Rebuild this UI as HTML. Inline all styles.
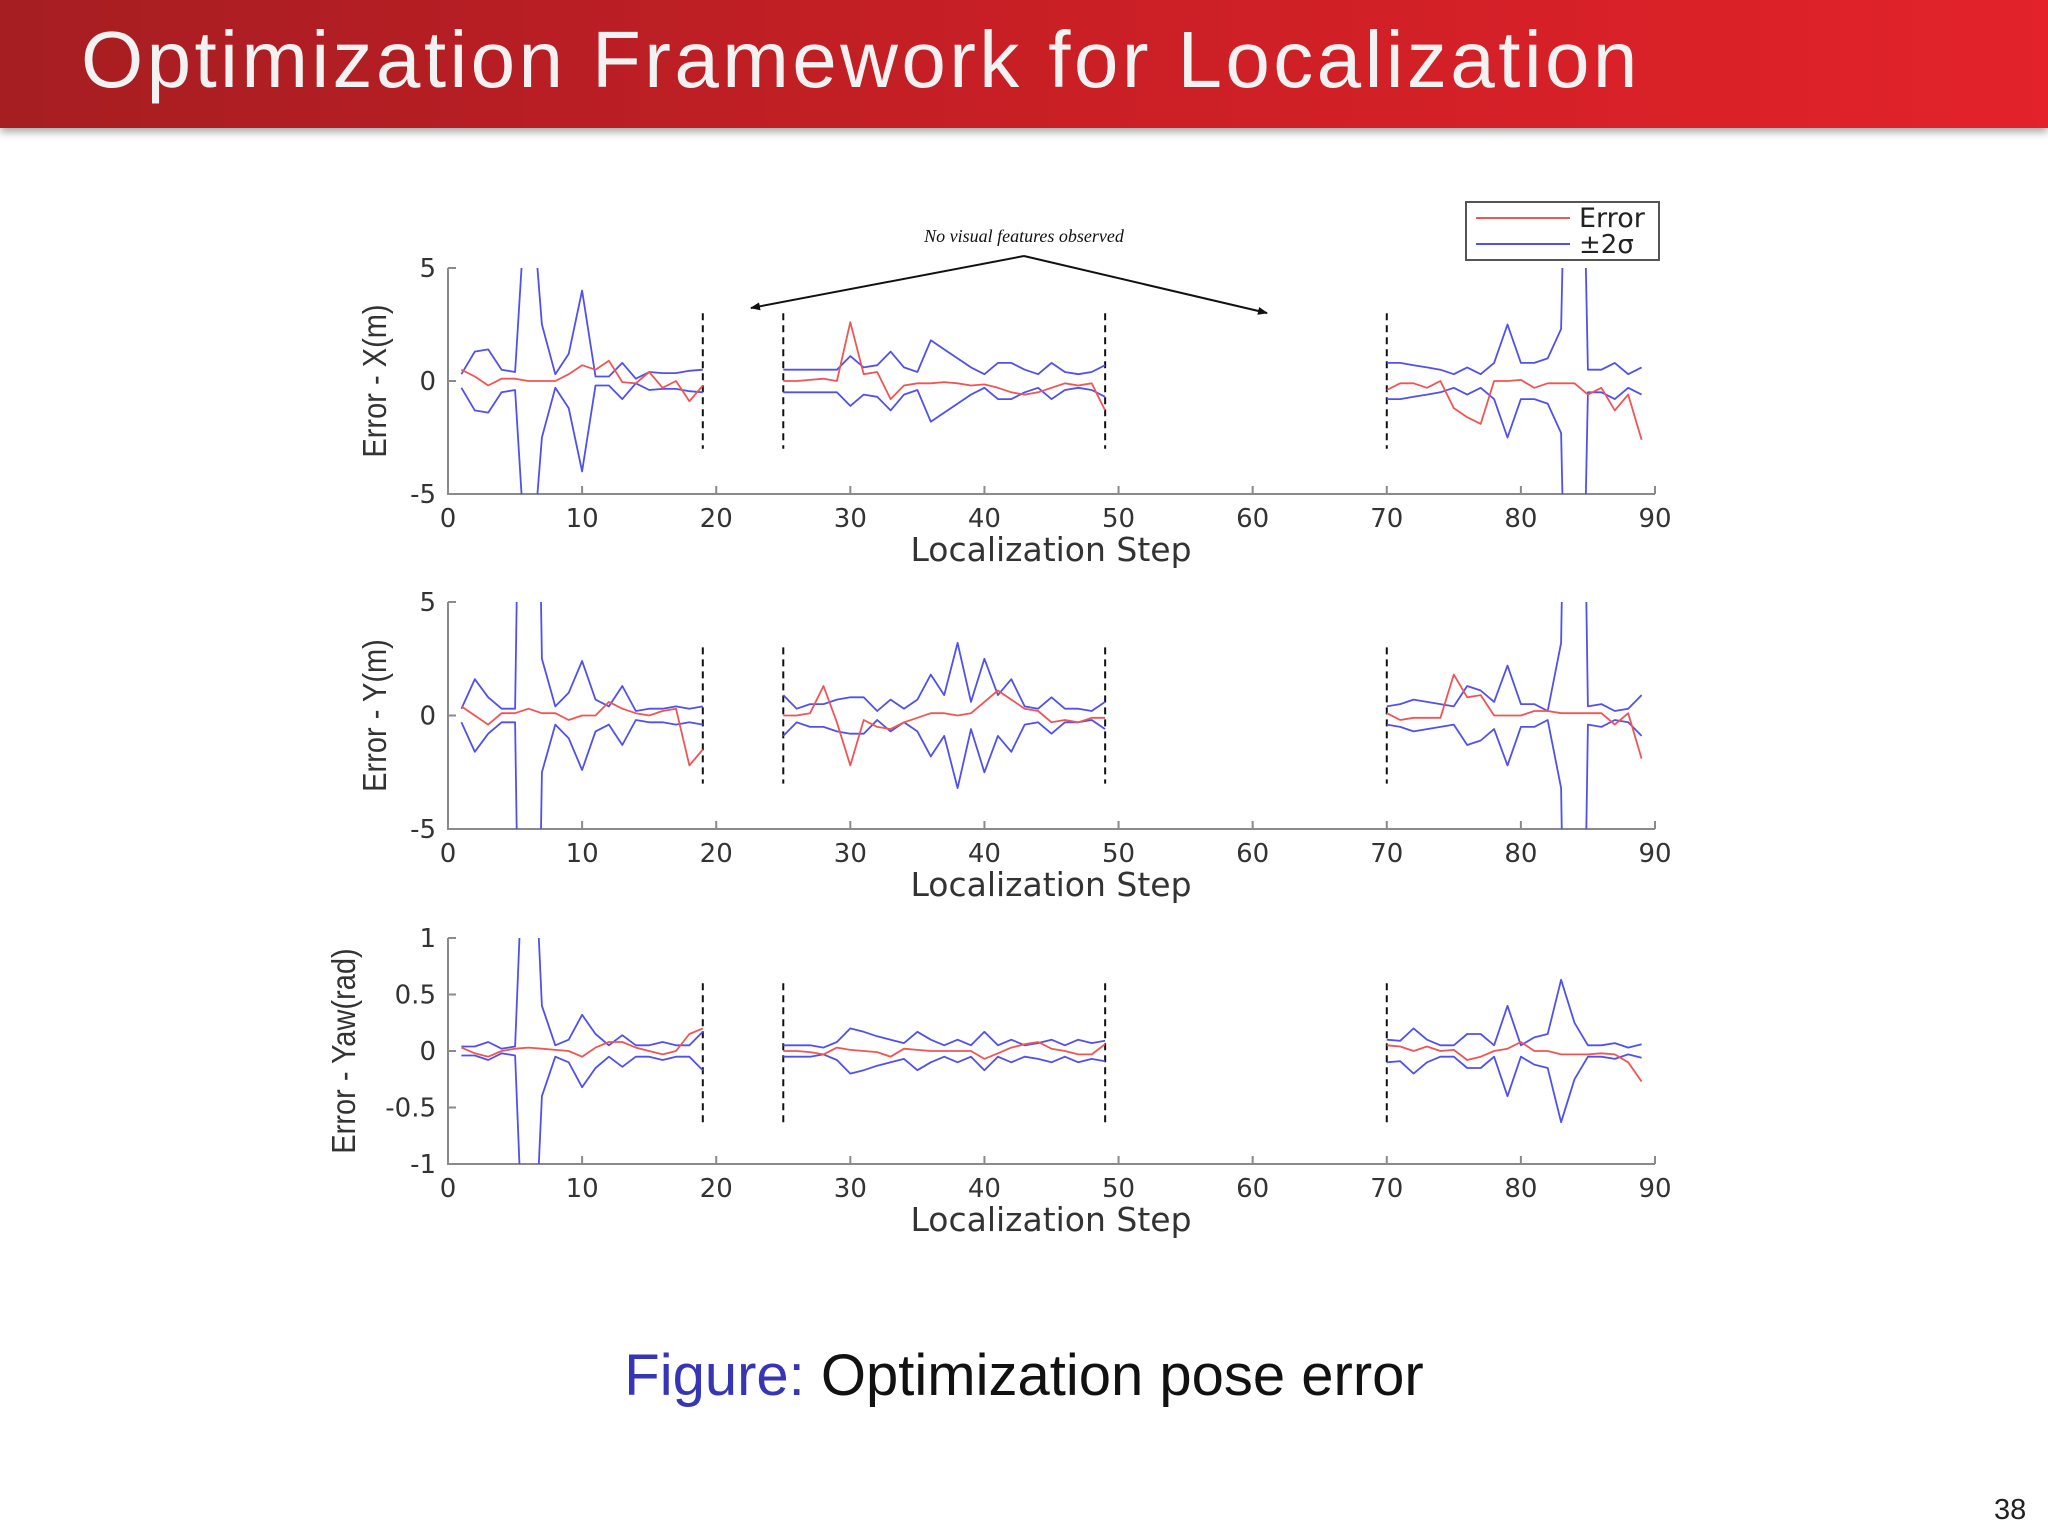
<!DOCTYPE html>
<html><head><meta charset="utf-8"><style>
html,body{margin:0;padding:0;background:#fff;width:2048px;height:1536px;overflow:hidden;}
body{position:relative;font-family:"Liberation Sans",sans-serif;}
#bar{position:absolute;left:0;top:0;width:2048px;height:128px;background:linear-gradient(90deg,#a61e22 0%,#c81f25 50%,#e3222a 100%);box-shadow:0 4px 8px rgba(0,0,0,0.35);}
#title{position:absolute;left:81px;top:14px;font-size:80px;color:#f2f2f2;white-space:nowrap;letter-spacing:3.4px;}
#caption{position:absolute;left:0;width:2048px;top:1342px;height:70px;text-align:center;font-size:58px;color:#111;}
#caption span{color:#3535b5;}
#pagenum{position:absolute;left:1994px;top:1494px;font-size:29px;color:#222;line-height:32px;}
svg{position:absolute;left:0;top:0;}
</style></head><body>
<div id="bar"><div id="title">Optimization Framework for Localization</div></div>
<svg id="chart" width="2048" height="1536"></svg>
<div id="caption"><span>Figure:</span> Optimization pose error</div>
<div id="pagenum">38</div>
<script>
const steps = [1,2,3,4,5,6,7,8,9,10,11,12,13,14,15,16,17,18,19,
25,26,27,28,29,30,31,32,33,34,35,36,37,38,39,40,41,42,43,44,45,46,47,48,49,
70,71,72,73,74,75,76,77,78,79,80,81,82,83,84,85,86,87,88,89];
const xErr = [0.5,0.2,-0.2,0.1,0.1,0,0,0,0.3,0.7,0.5,0.9,-0.05,-0.1,0.4,-0.3,0,-0.9,-0.2,
0,0,0.05,0.1,0,2.6,0.3,0.4,-0.8,-0.2,-0.1,-0.1,-0.05,-0.1,-0.2,-0.15,-0.3,-0.5,-0.6,-0.5,-0.3,-0.1,-0.2,-0.1,-1.3,
-0.4,-0.1,-0.1,-0.3,0,-1.2,-1.6,-1.9,0,0,0.05,-0.3,-0.1,-0.1,-0.1,-0.6,-0.3,-1.3,-0.6,-2.6];
const xSig = [0.3,1.3,1.4,0.5,0.4,10,2.5,0.3,1.2,4,0.2,0.2,0.8,0.1,0.4,0.35,0.35,0.45,0.5,
0.5,0.5,0.5,0.5,0.5,1.1,0.6,0.7,1.3,0.6,0.4,1.8,1.4,1.0,0.6,0.3,0.8,0.8,0.5,0.3,0.8,0.4,0.3,0.4,0.7,
0.8,0.8,0.7,0.6,0.5,0.3,0.6,0.3,0.8,2.5,0.8,0.8,1.0,2.3,30,0.5,0.5,0.8,0.3,0.6];
const yErr = [0.4,0,-0.4,0.1,0.1,0.3,0.1,0.1,-0.2,0,0,0.6,0.3,0.1,0,0.2,0.3,-2.2,-1.5,
0,0,0.1,1.3,-0.3,-2.2,-0.2,-0.5,-0.6,-0.3,-0.1,0.1,0.1,0,0.1,0.6,1.1,0.7,0.3,0.2,-0.3,-0.2,-0.3,-0.1,-0.1,
0.1,-0.2,-0.1,-0.1,-0.1,1.8,0.8,0.9,0,0,0,0.2,0.2,0.1,0.1,0.1,0.1,-0.4,0.1,-1.9];
const ySig = [0.3,1.6,0.8,0.3,0.3,40,2.5,0.4,1.0,2.4,0.7,0.4,1.3,0.2,0.3,0.3,0.4,0.3,0.4,
0.9,0.3,0.5,0.5,0.7,0.8,0.8,0.2,0.7,0.3,0.7,1.8,0.9,3.2,0.6,2.5,0.9,1.6,0.4,0.3,0.8,0.3,0.3,0.2,0.6,
0.4,0.5,0.7,0.6,0.5,0.4,1.3,1.1,0.6,2.2,0.5,0.5,0.2,3.2,40,0.4,0.5,0.2,0.3,0.9];
const yawErr = [0.03,-0.02,-0.05,0,0.02,0.03,0.02,0.01,0,-0.05,0.03,0.08,0.08,0.03,0,-0.03,0,0.15,0.2,
0,0,-0.01,-0.03,0.03,0.01,0,-0.01,-0.05,0.02,0.01,0,0,0,0,-0.07,-0.02,0.03,0.06,0.08,0.02,0,-0.03,-0.03,0.06,
0.05,0.04,0,0.04,0,0.01,-0.08,-0.05,0,0.02,0.08,0,0,-0.03,-0.03,-0.03,-0.02,-0.03,-0.1,-0.27];
const yawSig = [0.04,0.04,0.08,0.02,0.04,3,0.4,0.05,0.1,0.32,0.15,0.05,0.14,0.05,0.05,0.08,0.05,0.05,0.17,
0.05,0.05,0.05,0.03,0.08,0.2,0.17,0.13,0.1,0.07,0.17,0.1,0.05,0.1,0.05,0.17,0.05,0.1,0.05,0.07,0.1,0.05,0.1,0.07,0.09,
0.1,0.09,0.2,0.1,0.05,0.05,0.15,0.15,0.05,0.4,0.05,0.12,0.15,0.63,0.25,0.05,0.05,0.07,0.03,0.06];
const xTicks = [0,10,20,30,40,50,60,70,80,90];
const dashSteps = [19,25,49,70];

const NS='http://www.w3.org/2000/svg';
const svg=document.getElementById('chart');
function mk(tag,attrs,parent){const e=document.createElementNS(NS,tag);for(const k in attrs)e.setAttribute(k,attrs[k]);(parent||svg).appendChild(e);return e;}

const panels=[
 {name:'x-error',err:xErr,sig:xSig,top:268,bot:494,ymin:-5,ymax:5,yt:[-5,0,5],yl:['-5','0','5'],label:'Error - X(m)',lx:375,dash:[3,-3]},
 {name:'y-error',err:yErr,sig:ySig,top:602,bot:829,ymin:-5,ymax:5,yt:[-5,0,5],yl:['-5','0','5'],label:'Error - Y(m)',lx:375,dash:[3,-3]},
 {name:'yaw-error',err:yawErr,sig:yawSig,top:938,bot:1164,ymin:-1,ymax:1,yt:[-1,-0.5,0,0.5,1],yl:['-1','-0.5','0','0.5','1'],label:'Error - Yaw(rad)',lx:344,dash:[0.6,-0.65]}
];
const X0=448,X1=1655;
function sx(v){return X0+(v-0)/(90-0)*(X1-X0);}
function segs(vals){const out=[];let cur=[];for(let i=0;i<steps.length;i++){if(i>0&&steps[i]-steps[i-1]>1){out.push(cur);cur=[];}cur.push([steps[i],vals[i]]);}out.push(cur);return out;}

panels.forEach((p,pi)=>{
 const sy=v=>p.bot-(v-p.ymin)/(p.ymax-p.ymin)*(p.bot-p.top);
 const g=mk('g',{});
 
 
 const cid='clip'+pi;
 const cp=mk('clipPath',{id:cid},g);mk('rect',{x:X0,y:p.top,width:X1-X0,height:p.bot-p.top},cp);
 const ax=mk('path',{d:`M${X0},${p.top}V${p.bot}H${X1}`,stroke:'#8a8a8a','stroke-width':2,fill:'none'},g);
 
 
 xTicks.forEach(t=>{
  mk('line',{x1:sx(t),x2:sx(t),y1:p.bot,y2:p.bot-8,stroke:'#8a8a8a','stroke-width':2},g);
  const tl=mk('text',{x:sx(t),y:p.bot+33,'text-anchor':'middle','font-size':26,fill:'#333','font-family':'DejaVu Sans, sans-serif'},g);
  tl.textContent=t;
  
  
 });
 p.yt.forEach((t,i)=>{
  mk('line',{x1:X0,x2:X0+8,y1:sy(t),y2:sy(t),stroke:'#8a8a8a','stroke-width':2},g);
  const tl=mk('text',{x:X0-12,y:sy(t)+9,'text-anchor':'end','font-size':26,fill:'#333','font-family':'DejaVu Sans, sans-serif'},g);
  tl.textContent=p.yl[i];
  
  
 });
 const xt=mk('text',{x:1051,y:p.bot+67,'text-anchor':'middle','font-size':33,fill:'#333','font-family':'DejaVu Sans, sans-serif'},g);
 xt.textContent='Localization Step';
 
 
 const cy=(p.top+p.bot)/2;
 const yt=mk('text',{'text-anchor':'middle','font-size':33,fill:'#333','font-family':'Liberation Sans, sans-serif'},g);
 yt.setAttribute('transform',`translate(${p.lx} ${cy}) rotate(-90) scale(0.88 1)`);
 yt.setAttribute('x',0);yt.setAttribute('y',11);
 yt.textContent=p.label;
 
 
 dashSteps.forEach(d=>{
  const l=mk('line',{x1:sx(d),x2:sx(d),y1:sy(p.dash[0]),y2:sy(p.dash[1]),stroke:'#111','stroke-width':2,'stroke-dasharray':'7,5'},g);
  
  
 });
 const lg=mk('g',{'clip-path':`url(#${cid})`},g);
 const up=p.sig.map(v=>v), lo=p.sig.map(v=>-v);
 [[up,'#5050f0','sigma-upper'],[lo,'#5050f0','sigma-lower'],[p.err,'#f05555','error-line']].forEach(([vals,col,nm])=>{
  segs(vals).forEach(s=>{
   const d=s.map((pt,i)=>(i?'L':'M')+sx(pt[0]).toFixed(1)+','+sy(pt[1]).toFixed(1)).join('');
   const pa=mk('path',{d:d,stroke:col,'stroke-width':1.8,fill:'none','stroke-linejoin':'round'},lg);
   
   
  });
 });
});

const an=mk('text',{x:1024,y:242,'text-anchor':'middle','font-size':18,'font-style':'italic',fill:'#111','font-family':'Liberation Serif, serif'});
an.textContent='No visual features observed';


const defs=mk('defs',{});
const mkr=mk('marker',{id:'arr',markerWidth:10,markerHeight:8,refX:9,refY:4,orient:'auto',markerUnits:'userSpaceOnUse'},defs);
mk('path',{d:'M0,0L10,4L0,8Z',fill:'#111'},mkr);
[[751,308],[1267,313]].forEach(e=>{
 const a=mk('line',{x1:1024,y1:256,x2:e[0],y2:e[1],stroke:'#111','stroke-width':2,'marker-end':'url(#arr)'});
 
 
});
const lgd=mk('g',{});


mk('rect',{x:1466,y:202,width:193,height:58,fill:'#fff',stroke:'#555','stroke-width':2},lgd);
mk('line',{x1:1476,x2:1570,y1:218,y2:218,stroke:'#f05555','stroke-width':2},lgd);
mk('line',{x1:1476,x2:1570,y1:244,y2:244,stroke:'#5050f0','stroke-width':2},lgd);
const t1=mk('text',{x:1579,y:227,'font-size':27,fill:'#222','font-family':'DejaVu Sans, sans-serif'},lgd);t1.textContent='Error';


const t2=mk('text',{x:1579,y:253,'font-size':26,fill:'#222','font-family':'DejaVu Sans, sans-serif'},lgd);t2.textContent='±2σ';


</script>
</body></html>
